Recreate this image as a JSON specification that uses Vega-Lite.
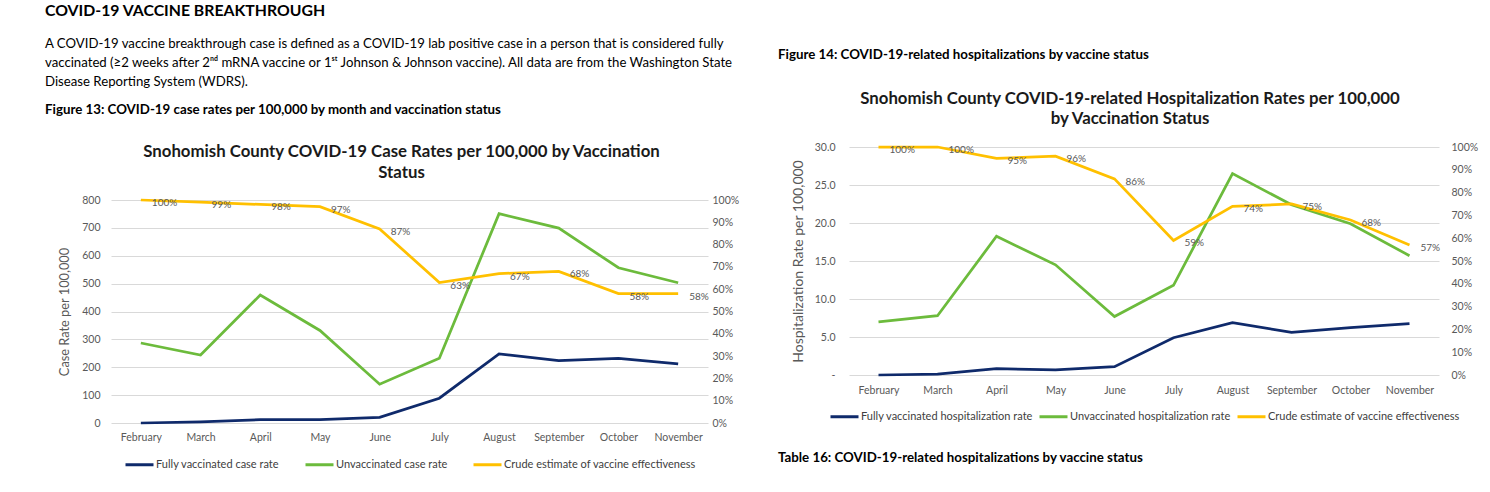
{
  "$schema": "https://vega.github.io/schema/vega-lite/v6.json",
  "padding": {"left": 45, "top": 2, "right": 5, "bottom": 2},
  "spacing": 39,
  "config": {
    "font": "Lato",
    "view": {"stroke": null},
    "axis": {"labelColor": "#595959", "labelFontSize": 10.5, "titleColor": "#595959", "titleFontWeight": "normal", "titleFontSize": 12.8, "grid": false, "domain": false, "ticks": false},
    "title": {"color": "#1a1a1a"},
    "legend": {"layout": {"bottom": {"anchor": "middle"}}}
  },
  "datasets": {
    "cases": [
      {"month": "February", "series": "Fully vaccinated case rate", "value": 0},
      {"month": "March", "series": "Fully vaccinated case rate", "value": 4},
      {"month": "April", "series": "Fully vaccinated case rate", "value": 12},
      {"month": "May", "series": "Fully vaccinated case rate", "value": 12},
      {"month": "June", "series": "Fully vaccinated case rate", "value": 20},
      {"month": "July", "series": "Fully vaccinated case rate", "value": 89},
      {"month": "August", "series": "Fully vaccinated case rate", "value": 248},
      {"month": "September", "series": "Fully vaccinated case rate", "value": 224},
      {"month": "October", "series": "Fully vaccinated case rate", "value": 232},
      {"month": "November", "series": "Fully vaccinated case rate", "value": 212},
      {"month": "February", "series": "Unvaccinated case rate", "value": 287},
      {"month": "March", "series": "Unvaccinated case rate", "value": 244},
      {"month": "April", "series": "Unvaccinated case rate", "value": 459},
      {"month": "May", "series": "Unvaccinated case rate", "value": 332},
      {"month": "June", "series": "Unvaccinated case rate", "value": 139},
      {"month": "July", "series": "Unvaccinated case rate", "value": 232},
      {"month": "August", "series": "Unvaccinated case rate", "value": 751},
      {"month": "September", "series": "Unvaccinated case rate", "value": 699},
      {"month": "October", "series": "Unvaccinated case rate", "value": 557},
      {"month": "November", "series": "Unvaccinated case rate", "value": 503},
      {"month": "February", "series": "Crude estimate of vaccine effectiveness", "value": 1.0},
      {"month": "March", "series": "Crude estimate of vaccine effectiveness", "value": 0.99},
      {"month": "April", "series": "Crude estimate of vaccine effectiveness", "value": 0.98},
      {"month": "May", "series": "Crude estimate of vaccine effectiveness", "value": 0.97},
      {"month": "June", "series": "Crude estimate of vaccine effectiveness", "value": 0.87},
      {"month": "July", "series": "Crude estimate of vaccine effectiveness", "value": 0.63},
      {"month": "August", "series": "Crude estimate of vaccine effectiveness", "value": 0.67},
      {"month": "September", "series": "Crude estimate of vaccine effectiveness", "value": 0.68},
      {"month": "October", "series": "Crude estimate of vaccine effectiveness", "value": 0.58},
      {"month": "November", "series": "Crude estimate of vaccine effectiveness", "value": 0.58}
    ],
    "hosp": [
      {"month": "February", "series": "Fully vaccinated hospitalization rate", "value": 0},
      {"month": "March", "series": "Fully vaccinated hospitalization rate", "value": 0.1},
      {"month": "April", "series": "Fully vaccinated hospitalization rate", "value": 0.83},
      {"month": "May", "series": "Fully vaccinated hospitalization rate", "value": 0.66},
      {"month": "June", "series": "Fully vaccinated hospitalization rate", "value": 1.09},
      {"month": "July", "series": "Fully vaccinated hospitalization rate", "value": 4.9},
      {"month": "August", "series": "Fully vaccinated hospitalization rate", "value": 6.9},
      {"month": "September", "series": "Fully vaccinated hospitalization rate", "value": 5.6},
      {"month": "October", "series": "Fully vaccinated hospitalization rate", "value": 6.24},
      {"month": "November", "series": "Fully vaccinated hospitalization rate", "value": 6.77},
      {"month": "February", "series": "Unvaccinated hospitalization rate", "value": 7.0},
      {"month": "March", "series": "Unvaccinated hospitalization rate", "value": 7.8},
      {"month": "April", "series": "Unvaccinated hospitalization rate", "value": 18.25},
      {"month": "May", "series": "Unvaccinated hospitalization rate", "value": 14.5},
      {"month": "June", "series": "Unvaccinated hospitalization rate", "value": 7.7},
      {"month": "July", "series": "Unvaccinated hospitalization rate", "value": 11.8},
      {"month": "August", "series": "Unvaccinated hospitalization rate", "value": 26.5},
      {"month": "September", "series": "Unvaccinated hospitalization rate", "value": 22.4},
      {"month": "October", "series": "Unvaccinated hospitalization rate", "value": 19.9},
      {"month": "November", "series": "Unvaccinated hospitalization rate", "value": 15.7},
      {"month": "February", "series": "Crude estimate of vaccine effectiveness", "value": 1.0},
      {"month": "March", "series": "Crude estimate of vaccine effectiveness", "value": 1.0},
      {"month": "April", "series": "Crude estimate of vaccine effectiveness", "value": 0.95},
      {"month": "May", "series": "Crude estimate of vaccine effectiveness", "value": 0.96},
      {"month": "June", "series": "Crude estimate of vaccine effectiveness", "value": 0.86},
      {"month": "July", "series": "Crude estimate of vaccine effectiveness", "value": 0.59},
      {"month": "August", "series": "Crude estimate of vaccine effectiveness", "value": 0.74},
      {"month": "September", "series": "Crude estimate of vaccine effectiveness", "value": 0.75},
      {"month": "October", "series": "Crude estimate of vaccine effectiveness", "value": 0.68},
      {"month": "November", "series": "Crude estimate of vaccine effectiveness", "value": 0.57}
    ],
    "title13": [
      {"line": 1, "text": "Snohomish County COVID-19 Case Rates per 100,000 by Vaccination"},
      {"line": 2, "text": "Status"}
    ]
  },
  "hconcat": [
    {
      "title": {
        "text": "COVID-19 VACCINE BREAKTHROUGH",
        "subtitle": [
          "A COVID-19 vaccine breakthrough case is defined as a COVID-19 lab positive case in a person that is considered fully",
          "vaccinated (≥2 weeks after 2ⁿᵈ mRNA vaccine or 1ˢᵗ Johnson & Johnson vaccine).  All data are from the Washington State",
          "Disease Reporting System (WDRS)."
        ],
        "anchor": "start", "frame": "group", "dx": -66,
        "fontSize": 15.8, "fontWeight": "bold", "color": "#000000",
        "subtitleFontSize": 13.2, "subtitleLineHeight": 19, "subtitlePadding": 18, "subtitleColor": "#000000",
        "offset": 14
      },
      "resolve": {"scale": {"color": "independent"}, "legend": {"color": "independent"}},
      "vconcat": [
        {
          "title": {"text": "Figure 13: COVID-19 case rates per 100,000 by month and vaccination status", "anchor": "start", "frame": "group", "dx": -66, "fontSize": 13.3, "fontWeight": "bold", "color": "#000000", "offset": 28},
          "spacing": 12,
          "resolve": {"scale": {"color": "independent"}, "legend": {"color": "independent"}},
          "vconcat": [
            {
              "width": 597, "height": 31,
              "data": {"name": "title13"},
              "mark": {"type": "text", "fontSize": 16.8, "fontWeight": "bold", "color": "#1a1a1a", "align": "center", "baseline": "middle", "dx": -8},
              "encoding": {
                "y": {"field": "line", "type": "ordinal", "scale": {"type": "point", "padding": 0.24}, "axis": null},
                "text": {"field": "text", "type": "nominal"}
              }
            },
            {
              "width": 597, "height": 223,
              "data": {"name": "cases"},
              "encoding": {
                "x": {"field": "month", "type": "nominal", "sort": ["February", "March", "April", "May", "June", "July", "August", "September", "October", "November"], "scale": {"type": "point", "padding": 0.5}, "axis": {"title": null, "labelAngle": 0, "labelPadding": 9}}
              },
              "layer": [
                {
                  "transform": [{"filter": "datum.series != 'Crude estimate of vaccine effectiveness'"}],
                  "mark": {"type": "line", "strokeWidth": 2.75},
                  "encoding": {
                    "y": {"field": "value", "type": "quantitative", "scale": {"domain": [0, 800], "nice": false}, "axis": {"title": "Case Rate per 100,000", "values": [0, 100, 200, 300, 400, 500, 600, 700, 800], "grid": true, "gridColor": "#d9d9d9", "labelPadding": 11, "titlePadding": 10}},
                    "color": {"field": "series", "type": "nominal", "scale": {"domain": ["Fully vaccinated case rate", "Unvaccinated case rate", "Crude estimate of vaccine effectiveness"], "range": ["#0f2a6b", "#6cbb3c", "#ffc000"]}, "legend": {"orient": "bottom", "title": null, "symbolType": "stroke", "symbolSize": 784, "symbolStrokeWidth": 3, "labelFontSize": 11, "labelColor": "#404040", "labelLimit": 400, "columnPadding": 19, "labelOffset": 1, "offset": 6}}
                  }
                },
                {
                  "transform": [{"filter": "datum.series == 'Crude estimate of vaccine effectiveness'"}],
                  "encoding": {
                    "y": {"field": "value", "type": "quantitative", "scale": {"domain": [0, 1], "nice": false}, "axis": {"orient": "right", "title": null, "format": ".0%", "values": [0, 0.1, 0.2, 0.3, 0.4, 0.5, 0.6, 0.7, 0.8, 0.9, 1.0], "labelOverlap": false, "labelPadding": 4}}
                  },
                  "layer": [
                    {
                      "mark": {"type": "line", "strokeWidth": 2.75},
                      "encoding": {
                        "color": {"field": "series", "type": "nominal", "scale": {"domain": ["Fully vaccinated case rate", "Unvaccinated case rate", "Crude estimate of vaccine effectiveness"], "range": ["#0f2a6b", "#6cbb3c", "#ffc000"]}, "legend": {"orient": "bottom", "title": null, "symbolType": "stroke", "symbolSize": 784, "symbolStrokeWidth": 3, "labelFontSize": 11, "labelColor": "#404040", "labelLimit": 400, "columnPadding": 19, "labelOffset": 1, "offset": 6}}
                      }
                    },
                    {
                      "mark": {"type": "text", "align": "left", "baseline": "middle", "dx": 11, "dy": 3, "fontSize": 10, "color": "#595959"},
                      "encoding": {
                        "text": {"field": "value", "type": "quantitative", "format": ".0%"}
                      }
                    }
                  ]
                }
              ],
              "resolve": {"scale": {"y": "independent"}}
            }
          ]
        }
      ]
    },
    {
      "title": {"text": "Figure 14: COVID-19-related hospitalizations by vaccine status", "anchor": "start", "frame": "group", "dx": -71, "fontSize": 13.3, "fontWeight": "bold", "color": "#000000", "offset": 29},
      "resolve": {"scale": {"color": "independent"}, "legend": {"color": "independent"}},
      "vconcat": [
        {
          "title": {"text": "Table 16: COVID-19-related hospitalizations by vaccine status", "orient": "bottom", "anchor": "start", "frame": "group", "dx": -71, "fontSize": 13.3, "fontWeight": "bold", "color": "#000000", "offset": 28},
          "resolve": {"scale": {"color": "independent"}, "legend": {"color": "independent"}},
          "vconcat": [
            {
              "width": 590, "height": 228,
              "data": {"name": "hosp"},
              "title": {"text": ["Snohomish County COVID-19-related Hospitalization Rates per 100,000", "by Vaccination Status"], "anchor": "middle", "fontSize": 16.8, "fontWeight": "bold", "lineHeight": 20, "offset": 14, "dx": -14},
              "encoding": {
                "x": {"field": "month", "type": "nominal", "sort": ["February", "March", "April", "May", "June", "July", "August", "September", "October", "November"], "scale": {"type": "point", "padding": 0.5}, "axis": {"title": null, "labelAngle": 0, "labelPadding": 10}}
              },
              "layer": [
                {
                  "transform": [{"filter": "datum.series != 'Crude estimate of vaccine effectiveness'"}],
                  "mark": {"type": "line", "strokeWidth": 2.75},
                  "encoding": {
                    "y": {"field": "value", "type": "quantitative", "scale": {"domain": [0, 30], "nice": false}, "axis": {"title": "Hospitalization Rate per 100,000", "titleFontSize": 14, "values": [0, 5, 10, 15, 20, 25, 30], "grid": true, "gridColor": "#d9d9d9", "labelPadding": 14, "titlePadding": 9, "labelExpr": "datum.value == 0 ? '-' : format(datum.value, '.1f')"}},
                    "color": {"field": "series", "type": "nominal", "scale": {"domain": ["Fully vaccinated hospitalization rate", "Unvaccinated hospitalization rate", "Crude estimate of vaccine effectiveness"], "range": ["#0f2a6b", "#6cbb3c", "#ffc000"]}, "legend": {"orient": "bottom", "title": null, "symbolType": "stroke", "symbolSize": 784, "symbolStrokeWidth": 3, "labelFontSize": 11, "labelColor": "#404040", "labelLimit": 400, "columnPadding": 0, "labelOffset": 1, "offset": 5}}
                  }
                },
                {
                  "transform": [{"filter": "datum.series == 'Crude estimate of vaccine effectiveness'"}],
                  "encoding": {
                    "y": {"field": "value", "type": "quantitative", "scale": {"domain": [0, 1], "nice": false}, "axis": {"orient": "right", "title": null, "format": ".0%", "values": [0, 0.1, 0.2, 0.3, 0.4, 0.5, 0.6, 0.7, 0.8, 0.9, 1.0], "labelOverlap": false, "labelPadding": 12}}
                  },
                  "layer": [
                    {
                      "mark": {"type": "line", "strokeWidth": 2.75},
                      "encoding": {
                        "color": {"field": "series", "type": "nominal", "scale": {"domain": ["Fully vaccinated hospitalization rate", "Unvaccinated hospitalization rate", "Crude estimate of vaccine effectiveness"], "range": ["#0f2a6b", "#6cbb3c", "#ffc000"]}, "legend": {"orient": "bottom", "title": null, "symbolType": "stroke", "symbolSize": 784, "symbolStrokeWidth": 3, "labelFontSize": 11, "labelColor": "#404040", "labelLimit": 400, "columnPadding": 0, "labelOffset": 1, "offset": 5}}
                      }
                    },
                    {
                      "mark": {"type": "text", "align": "left", "baseline": "middle", "dx": 11, "dy": 3, "fontSize": 10, "color": "#595959"},
                      "encoding": {
                        "text": {"field": "value", "type": "quantitative", "format": ".0%"}
                      }
                    }
                  ]
                }
              ],
              "resolve": {"scale": {"y": "independent"}}
            }
          ]
        }
      ]
    }
  ],
  "resolve": {"scale": {"color": "independent"}, "legend": {"color": "independent"}}
}
